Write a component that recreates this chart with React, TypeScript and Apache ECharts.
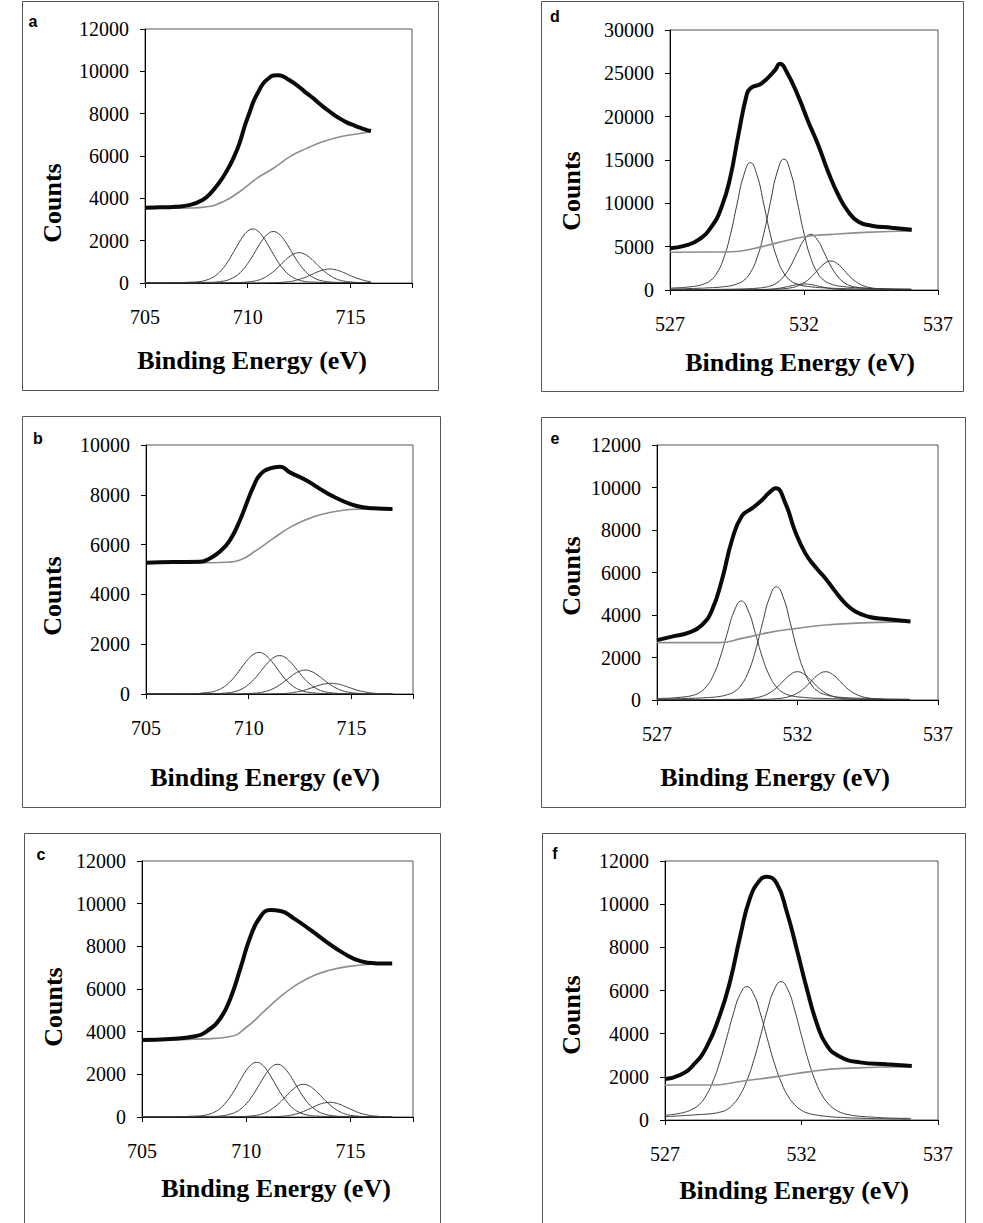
import React, { useEffect, useRef } from "react";
import * as echarts from "echarts";

// ---------- energy grids (eV) ----------
const FE_GRID = [705, 705.25, 705.5, 705.75, 706, 706.25, 706.5, 706.75, 707, 707.25, 707.5, 707.75, 708, 708.25, 708.5, 708.75, 709, 709.25, 709.5, 709.75, 710, 710.25, 710.5, 710.75, 711, 711.25, 711.5, 711.75, 712, 712.25, 712.5, 712.75, 713, 713.25, 713.5, 713.75, 714, 714.25, 714.5, 714.75, 715, 715.25, 715.5, 715.75, 716, 716.25, 716.5, 716.75, 717];
const O_GRID = [527, 527.25, 527.5, 527.75, 528, 528.25, 528.5, 528.75, 529, 529.25, 529.5, 529.75, 530, 530.25, 530.5, 530.75, 531, 531.25, 531.5, 531.75, 532, 532.25, 532.5, 532.75, 533, 533.25, 533.5, 533.75, 534, 534.25, 534.5, 534.75, 535, 535.25, 535.5, 535.75, 536];

// ---------- tick labels ----------
const FE_X_TICKS = [705, 710, 715];
const O_X_TICKS = [527, 532, 537];
const Y_TICKS_12K = [0, 2000, 4000, 6000, 8000, 10000, 12000];
const Y_TICKS_10K = [0, 2000, 4000, 6000, 8000, 10000];
const Y_TICKS_30K = [0, 5000, 10000, 15000, 20000, 25000, 30000];

// ---------- panel a ----------
const A_RAW: [number, number][] = [[705, 3560], [705.5, 3570], [706, 3580], [706.5, 3600], [707.2, 3690], [707.8, 3920], [708.2, 4250], [708.65, 4790], [709.0, 5330], [709.3, 5890], [709.6, 6600], [709.87, 7460], [710.1, 8080], [710.28, 8570], [710.5, 9000], [710.76, 9430], [711.0, 9650], [711.25, 9800], [711.5, 9820], [711.74, 9750], [712.0, 9600], [712.39, 9350], [712.8, 9020], [713.2, 8720], [713.6, 8390], [714.0, 8090], [714.4, 7820], [714.82, 7590], [715.2, 7440], [715.47, 7340], [715.7, 7260], [716, 7180]];
const A_BG: [number, number][] = [[705, 3530], [706, 3530], [707.2, 3540], [708.0, 3600], [708.8, 3840], [709.6, 4310], [710.44, 4940], [711.25, 5420], [712.06, 5970], [712.87, 6360], [713.68, 6680], [714.5, 6910], [715.3, 7040], [716, 7150]];
const A_P1 = [10, 10, 10, 10, 10, 20, 20, 20, 30, 40, 50, 80, 140, 240, 400, 640, 960, 1360, 1780, 2170, 2450, 2550, 2450, 2170, 1780, 1360, 960, 640, 400, 240, 140, 80, 50, 40, 30, 20, 20, 20, 10, 10, 10, 10, 10, 10, 10];
const A_P2 = [0, 0, 0, 0, 0, 0, 0, 0, 0, 10, 20, 20, 30, 30, 50, 80, 130, 230, 380, 610, 920, 1290, 1700, 2070, 2330, 2430, 2330, 2070, 1700, 1290, 920, 610, 380, 230, 130, 80, 50, 30, 30, 20, 20, 10, 10, 10, 10];
const A_P3 = [0, 0, 0, 0, 0, 0, 0, 0, 0, 0, 0, 0, 0, 0, 0, 10, 10, 20, 20, 30, 50, 80, 130, 220, 360, 540, 760, 1000, 1220, 1370, 1430, 1370, 1220, 1000, 760, 540, 360, 220, 130, 80, 50, 30, 20, 20, 10];
const A_P4 = [0, 0, 0, 0, 0, 0, 0, 0, 0, 0, 0, 0, 0, 0, 0, 0, 0, 0, 0, 0, 0, 0, 0, 0, 10, 10, 20, 40, 60, 100, 170, 250, 350, 460, 560, 630, 660, 630, 560, 460, 350, 250, 170, 100, 60];

// ---------- panel b ----------
const B_RAW: [number, number][] = [[705, 5270], [706.33, 5300], [707.63, 5310], [708.12, 5450], [708.6, 5720], [709.09, 6180], [709.58, 6990], [709.9, 7660], [710.23, 8330], [710.55, 8800], [711.04, 9060], [711.53, 9130], [712.01, 8900], [712.82, 8570], [713.64, 8150], [714.45, 7800], [715.26, 7550], [716.07, 7460], [717, 7430]];
const B_BG: [number, number][] = [[705, 5250], [707.95, 5270], [708.93, 5290], [709.58, 5380], [710.39, 5780], [711.2, 6250], [712.01, 6690], [712.82, 7010], [713.64, 7230], [714.45, 7360], [715.26, 7420], [717, 7430]];
const B_P1 = [0, 0, 0, 0, 0, 0, 0, 10, 10, 20, 20, 40, 60, 90, 160, 260, 420, 630, 890, 1170, 1420, 1600, 1670, 1600, 1420, 1170, 890, 630, 420, 260, 160, 90, 60, 40, 20, 20, 10, 10, 0, 0, 0, 0, 0, 0, 0, 0, 0, 0, 0];
const B_P2 = [0, 0, 0, 0, 0, 0, 0, 0, 0, 0, 0, 10, 10, 20, 20, 30, 50, 80, 140, 240, 390, 580, 820, 1080, 1310, 1480, 1540, 1480, 1310, 1080, 820, 580, 390, 240, 140, 80, 50, 30, 20, 20, 10, 10, 0, 0, 0, 0, 0, 0, 0];
const B_P3 = [0, 0, 0, 0, 0, 0, 0, 0, 0, 0, 0, 0, 0, 0, 0, 0, 0, 0, 0, 10, 20, 30, 50, 90, 150, 240, 360, 510, 670, 820, 920, 960, 920, 820, 670, 510, 360, 240, 150, 90, 50, 30, 20, 10, 0, 0, 0, 0, 0];
const B_P4 = [0, 0, 0, 0, 0, 0, 0, 0, 0, 0, 0, 0, 0, 0, 0, 0, 0, 0, 0, 0, 0, 0, 0, 0, 0, 10, 10, 20, 40, 70, 110, 160, 230, 300, 370, 410, 430, 410, 370, 300, 230, 160, 110, 70, 40, 20, 10, 10, 0];

// ---------- panel c ----------
const C_RAW: [number, number][] = [[705, 3610], [706.36, 3660], [707.48, 3770], [708.12, 4030], [708.76, 4630], [709.24, 5560], [709.72, 6970], [710.2, 8450], [710.68, 9390], [711.16, 9700], [711.64, 9660], [712.28, 9310], [713.08, 8770], [713.88, 8190], [714.68, 7670], [715.48, 7310], [716.28, 7200], [717, 7190]];
const C_BG: [number, number][] = [[705, 3590], [707.96, 3660], [709.24, 3770], [710.04, 4230], [710.84, 4940], [711.64, 5640], [712.44, 6220], [713.24, 6630], [714.04, 6890], [714.84, 7050], [715.96, 7160], [717, 7190]];
const C_P1 = [0, 0, 0, 0, 0, 0, 10, 20, 20, 30, 40, 50, 80, 140, 240, 400, 650, 970, 1360, 1790, 2180, 2460, 2560, 2460, 2180, 1790, 1360, 970, 650, 400, 240, 140, 80, 50, 40, 30, 20, 20, 10, 0, 0, 0, 0, 0, 0, 0, 0, 0, 0];
const C_P2 = [0, 0, 0, 0, 0, 0, 0, 0, 0, 0, 10, 20, 20, 30, 30, 50, 80, 140, 230, 390, 620, 930, 1310, 1720, 2100, 2370, 2470, 2370, 2100, 1720, 1310, 930, 620, 390, 230, 140, 80, 50, 30, 30, 20, 20, 10, 0, 0, 0, 0, 0, 0];
const C_P3 = [0, 0, 0, 0, 0, 0, 0, 0, 0, 0, 0, 0, 0, 0, 0, 0, 0, 10, 20, 20, 30, 50, 80, 140, 240, 390, 580, 810, 1070, 1300, 1470, 1530, 1470, 1300, 1070, 810, 580, 390, 240, 140, 80, 50, 30, 20, 20, 10, 0, 0, 0];
const C_P4 = [0, 0, 0, 0, 0, 0, 0, 0, 0, 0, 0, 0, 0, 0, 0, 0, 0, 0, 0, 0, 0, 0, 0, 0, 10, 10, 20, 40, 60, 110, 170, 260, 370, 480, 590, 660, 690, 660, 590, 480, 370, 260, 170, 110, 60, 40, 20, 10, 10];

// ---------- panel d ----------
const D_RAW: [number, number][] = [[527, 4810], [527.56, 5120], [528.06, 5770], [528.55, 7310], [528.93, 9620], [529.24, 12880], [529.55, 17880], [529.86, 22500], [530.0, 23270], [530.42, 23850], [530.92, 25380], [531.1, 26100], [531.35, 25190], [531.79, 22310], [532.16, 19420], [532.53, 16730], [532.9, 13650], [533.28, 10960], [533.65, 9040], [534.03, 7880], [534.52, 7420], [535.27, 7190], [536.02, 6960]];
const D_BG: [number, number][] = [[527, 4350], [528.5, 4380], [529.3, 4420], [530.05, 4730], [530.92, 5380], [532.04, 6150], [533.03, 6420], [534.28, 6650], [536.02, 6810]];
const D_P1 = [210, 250, 290, 370, 470, 680, 1070, 1950, 3630, 6330, 9890, 13220, 14690, 13220, 9890, 6330, 3630, 1950, 1070, 680, 470, 370, 290, 250, 210, 180, 160, 140, 120, 110, 100, 90, 90, 80, 70, 70, 70];
const D_P2 = [110, 120, 140, 170, 190, 220, 260, 300, 380, 480, 700, 1100, 2010, 3730, 6510, 10170, 13600, 15110, 13600, 10170, 6510, 3730, 2010, 1100, 700, 480, 380, 300, 260, 220, 190, 170, 140, 120, 110, 110, 100];
const D_P3 = [30, 40, 40, 40, 50, 50, 60, 70, 80, 90, 110, 130, 160, 210, 300, 470, 850, 1590, 2770, 4320, 5780, 6420, 5780, 4320, 2770, 1590, 850, 470, 300, 210, 160, 130, 110, 90, 80, 70, 60];
const D_P4 = [20, 20, 20, 20, 20, 20, 20, 30, 30, 30, 40, 40, 50, 60, 70, 80, 110, 150, 250, 450, 830, 1440, 2260, 3020, 3350, 3020, 2260, 1440, 830, 450, 250, 150, 110, 80, 70, 60, 50];
const D_P5 = [10, 10, 10, 10, 10, 10, 10, 10, 10, 10, 10, 20, 20, 30, 50, 90, 170, 300, 470, 630, 700, 630, 470, 300, 170, 90, 50, 30, 20, 20, 10, 10, 10, 10, 10, 10, 10];

// ---------- panel e ----------
const E_RAW: [number, number][] = [[527, 2820], [527.53, 2980], [528.13, 3170], [528.6, 3530], [528.96, 4240], [529.31, 5650], [529.67, 7530], [530.02, 8660], [530.38, 9020], [530.74, 9410], [530.97, 9730], [531.23, 9960], [531.57, 9250], [531.92, 7920], [532.28, 6900], [532.63, 6270], [532.99, 5730], [533.35, 5100], [533.7, 4550], [534.06, 4160], [534.53, 3920], [535.13, 3810], [536.02, 3690]];
const E_BG: [number, number][] = [[527, 2700], [529.19, 2700], [530.02, 2900], [530.97, 3170], [531.92, 3360], [532.99, 3530], [534.53, 3640], [536.02, 3690]];
const E_P1 = [70, 80, 90, 120, 150, 210, 340, 620, 1150, 2010, 3140, 4190, 4660, 4190, 3140, 2010, 1150, 620, 340, 210, 150, 120, 90, 80, 70, 60, 50, 40, 40, 30, 30, 30, 30, 30, 20, 20, 20];
const E_P2 = [40, 40, 50, 60, 70, 80, 90, 110, 130, 170, 250, 390, 710, 1320, 2300, 3590, 4800, 5330, 4800, 3590, 2300, 1320, 710, 390, 250, 170, 130, 110, 90, 80, 70, 60, 50, 40, 40, 40, 30];
const E_P3 = [10, 10, 10, 10, 10, 10, 10, 20, 20, 20, 30, 30, 40, 60, 100, 180, 330, 570, 900, 1200, 1330, 1200, 900, 570, 330, 180, 100, 60, 40, 30, 30, 20, 20, 20, 10, 10, 10];
const E_P4 = [10, 10, 10, 10, 10, 10, 10, 10, 10, 10, 10, 20, 20, 20, 30, 30, 40, 60, 100, 180, 330, 570, 900, 1200, 1330, 1200, 900, 570, 330, 180, 100, 60, 40, 30, 30, 20, 20];

// ---------- panel f ----------
const F_RAW: [number, number][] = [[527, 1900], [527.55, 2085], [528.04, 2550], [528.53, 3400], [529.01, 4860], [529.38, 6410], [529.75, 8490], [530.11, 10270], [530.48, 11120], [530.72, 11270], [531.09, 10970], [531.46, 9650], [531.82, 7950], [532.19, 6100], [532.56, 4480], [532.92, 3470], [533.41, 2930], [534.14, 2670], [535.12, 2580], [536.04, 2500]];
const F_BG: [number, number][] = [[527, 1620], [528.65, 1620], [529.87, 1810], [531.09, 2010], [532.31, 2240], [533.53, 2390], [535.97, 2470]];
const F_P1 = [210, 250, 300, 370, 500, 710, 1120, 1770, 2660, 3760, 4910, 5820, 6180, 5820, 4910, 3760, 2660, 1770, 1120, 710, 450, 310, 240, 190, 160, 130, 120, 100, 90, 80, 70, 60, 60, 50, 50, 40, 40];
const F_P2 = [150, 170, 190, 210, 230, 250, 270, 300, 360, 470, 730, 1160, 1830, 2760, 3900, 5090, 6040, 6410, 6040, 5090, 3900, 2760, 1830, 1160, 730, 470, 320, 240, 190, 160, 140, 120, 100, 90, 80, 80, 70];

// ---------- layout (pixels) ----------
const PANELS = [
  { letter: "a", grid: FE_GRID, raw: A_RAW, bg: A_BG, peaks: [A_P1, A_P2, A_P3, A_P4], xTicks: FE_X_TICKS, yTicks: Y_TICKS_12K,
    box: [145, 29, 267, 254], frame: [22, 1, 416, 389], lp: [33, 21], cp: [52, 203], tp: [252, 360] },
  { letter: "b", grid: FE_GRID, raw: B_RAW, bg: B_BG, peaks: [B_P1, B_P2, B_P3, B_P4], xTicks: FE_X_TICKS, yTicks: Y_TICKS_10K,
    box: [146, 445, 267, 249], frame: [22, 416, 418, 391], lp: [38, 438], cp: [52, 596], tp: [265, 777] },
  { letter: "c", grid: FE_GRID, raw: C_RAW, bg: C_BG, peaks: [C_P1, C_P2, C_P3, C_P4], xTicks: FE_X_TICKS, yTicks: Y_TICKS_12K,
    box: [142, 861, 271, 256], frame: [24, 833, 416, 420], lp: [41, 854], cp: [53, 1007], tp: [276, 1188] },
  { letter: "d", grid: O_GRID, raw: D_RAW, bg: D_BG, peaks: [D_P1, D_P2, D_P3, D_P4, D_P5], xTicks: O_X_TICKS, yTicks: Y_TICKS_30K,
    box: [670, 30, 268, 260], frame: [541, 1, 422, 390], lp: [555, 16], cp: [571, 191], tp: [800, 362] },
  { letter: "e", grid: O_GRID, raw: E_RAW, bg: E_BG, peaks: [E_P1, E_P2, E_P3, E_P4], xTicks: O_X_TICKS, yTicks: Y_TICKS_12K,
    box: [657, 445, 281, 255], frame: [541, 417, 424, 390], lp: [555, 438], cp: [571, 576], tp: [775, 777] },
  { letter: "f", grid: O_GRID, raw: F_RAW, bg: F_BG, peaks: [F_P1, F_P2], xTicks: O_X_TICKS, yTicks: Y_TICKS_12K,
    box: [665, 861, 273, 259], frame: [542, 833, 423, 420], lp: [555, 853], cp: [571, 1015], tp: [794, 1190] },
];

const SERIF = '"Liberation Serif", "Times New Roman", serif';

function buildOption() {
  const grids: any[] = [];
  const xAxes: any[] = [];
  const yAxes: any[] = [];
  const series: any[] = [];
  const graphics: any[] = [];

  PANELS.forEach((p, i) => {
    const xMin = p.xTicks[0];
    const xMax = p.grid === FE_GRID ? 718 : p.xTicks[p.xTicks.length - 1];
    const xStep = p.xTicks[1] - p.xTicks[0];
    const yStep = p.yTicks[1] - p.yTicks[0];
    grids.push({
      left: p.box[0], top: p.box[1], width: p.box[2], height: p.box[3],
      show: true, borderColor: "#555", borderWidth: 1, backgroundColor: "transparent",
    });
    xAxes.push({
      type: "value", gridIndex: i, min: xMin, max: xMax, interval: xStep,
      axisLine: { show: true, onZero: false, lineStyle: { color: "#000", width: 1 } },
      axisTick: { show: true, length: 5, lineStyle: { color: "#000" } },
      axisLabel: {
        margin: 24, fontFamily: SERIF, fontSize: 20, color: "#000",
        formatter: (v: number) => (p.xTicks.indexOf(v) >= 0 ? String(v) : ""),
      },
      splitLine: { show: false },
    });
    yAxes.push({
      type: "value", gridIndex: i, min: 0, max: p.yTicks[p.yTicks.length - 1], interval: yStep,
      axisLine: { show: true, onZero: false, lineStyle: { color: "#000", width: 1 } },
      axisTick: { show: true, length: 5, lineStyle: { color: "#000" } },
      axisLabel: { margin: 16, fontFamily: SERIF, fontSize: 20, color: "#000", formatter: (v: number) => String(v) },
      splitLine: { show: false },
    });

    p.peaks.forEach((vals) => {
      series.push({
        type: "line", xAxisIndex: i, yAxisIndex: i, smooth: true, showSymbol: false, symbol: "none",
        silent: true, z: 2,
        lineStyle: { color: "#3c3c3c", width: 1 },
        data: vals.map((v, j) => [p.grid[j], v]),
      });
    });
    series.push({
      type: "line", xAxisIndex: i, yAxisIndex: i, smooth: true, showSymbol: false, symbol: "none",
      silent: true, z: 3, lineStyle: { color: "#8e8e8e", width: 1.6 }, data: p.bg,
    });
    series.push({
      type: "line", xAxisIndex: i, yAxisIndex: i, smooth: true, showSymbol: false, symbol: "none",
      silent: true, z: 4, lineStyle: { color: "#0a0a0a", width: 4 }, data: p.raw,
    });

    graphics.push({
      type: "rect", silent: true, z: 0,
      shape: { x: p.frame[0] + 0.5, y: p.frame[1] + 0.5, width: p.frame[2], height: p.frame[3] },
      style: { fill: "none", stroke: "#555", lineWidth: 1 },
    });
    graphics.push({
      type: "text", x: p.lp[0], y: p.lp[1], silent: true,
      style: { text: p.letter, font: 'bold 16px "Liberation Sans", Arial, sans-serif', fill: "#000",
        align: "center", verticalAlign: "middle", textAlign: "center", textVerticalAlign: "middle" },
    });
    graphics.push({
      type: "text", x: p.cp[0], y: p.cp[1], rotation: Math.PI / 2, silent: true,
      style: { text: "Counts", font: `bold 26px ${SERIF}`, fill: "#000",
        align: "center", verticalAlign: "middle", textAlign: "center", textVerticalAlign: "middle" },
    });
    graphics.push({
      type: "text", x: p.tp[0], y: p.tp[1], silent: true,
      style: { text: "Binding Energy (eV)", font: `bold 26px ${SERIF}`, fill: "#000",
        align: "center", verticalAlign: "middle", textAlign: "center", textVerticalAlign: "middle" },
    });
  });

  return {
    animation: false,
    backgroundColor: "#fff",
    grid: grids,
    xAxis: xAxes,
    yAxis: yAxes,
    series,
    graphic: { elements: graphics },
  };
}

export default function App() {
  const ref = useRef<HTMLDivElement>(null);
  useEffect(() => {
    if (!ref.current) return;
    const chart = echarts.init(ref.current, undefined, { renderer: "svg" });
    chart.setOption(buildOption() as any);
    return () => chart.dispose();
  }, []);
  return (
    <div
      ref={ref}
      style={{ position: "absolute", left: 0, top: 0, width: 983, height: 1223, background: "#fff" }}
    />
  );
}
